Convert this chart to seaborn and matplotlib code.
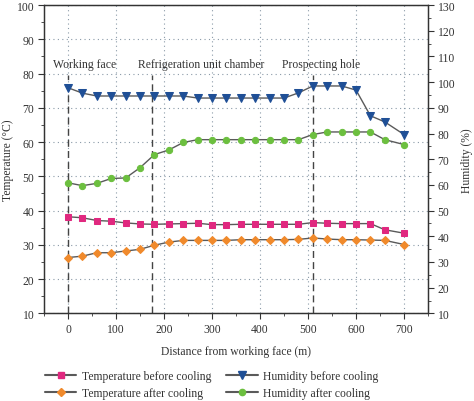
import seaborn as sns
import matplotlib.pyplot as plt
from matplotlib.lines import Line2D
from matplotlib.ticker import MultipleLocator

# distance from working face (m)
distance = [0, 30, 60, 90, 120, 150, 180, 210, 240, 270, 300, 330,
            360, 390, 420, 450, 480, 510, 540, 570, 600, 630, 660, 700]

temp_before = [38.2, 37.9, 37.1, 36.9, 36.4, 36.1, 36.0, 36.1, 36.2, 36.3, 35.9, 35.9,
               36.0, 36.0, 36.0, 36.0, 36.0, 36.5, 36.3, 36.2, 36.2, 36.2, 34.4, 33.4]
temp_after = [26.3, 26.7, 27.7, 27.7, 28.2, 28.7, 29.9, 30.8, 31.3, 31.3, 31.3, 31.3,
              31.5, 31.5, 31.5, 31.5, 31.6, 32.0, 31.7, 31.5, 31.5, 31.4, 31.3, 30.1]
hum_before = [97.8, 95.7, 94.6, 94.6, 94.6, 94.6, 94.6, 94.6, 94.6, 93.8, 93.8, 93.8,
              93.8, 93.8, 93.8, 93.8, 95.8, 98.5, 98.5, 98.5, 96.9, 86.9, 84.5, 79.6]
hum_after = [60.8, 59.7, 60.6, 62.5, 62.7, 66.7, 71.8, 73.6, 76.5, 77.6, 77.6, 77.6,
             77.6, 77.6, 77.6, 77.6, 77.6, 79.6, 80.6, 80.6, 80.6, 80.6, 77.6, 75.7]

# marked locations
places = ["Working face", "Refrigeration unit chamber", "Prospecting hole"]
place_x = [0, 175, 510]
label_x = [-31, 146, 446]

sns.set_style("ticks")
plt.rcParams['font.family'] = ['Liberation Serif', 'DejaVu Serif']
plt.rcParams['font.size'] = 8.4

fig = plt.figure(figsize=(4.74, 4.02), dpi=100)
ax = fig.add_axes([0.093, 0.218, 0.81, 0.767])
ax2 = ax.twinx()

line_col = "#5a5a5a"
c_tb, c_ta, c_hb, c_ha = "#e0287f", "#f08a2c", "#1f4f96", "#6cbf3f"

sns.lineplot(x=distance, y=temp_before, ax=ax, color=line_col, lw=1, marker="s",
             markersize=4.5, markerfacecolor=c_tb, markeredgecolor=c_tb)
sns.lineplot(x=distance, y=temp_after, ax=ax, color=line_col, lw=1, marker="D",
             markersize=4, markerfacecolor=c_ta, markeredgecolor=c_ta)
sns.lineplot(x=distance, y=hum_before, ax=ax2, color=line_col, lw=1, marker="v",
             markersize=5.5, markerfacecolor=c_hb, markeredgecolor=c_hb)
sns.lineplot(x=distance, y=hum_after, ax=ax2, color=line_col, lw=1, marker="o",
             markersize=4.5, markerfacecolor=c_ha, markeredgecolor=c_ha)

ax.set_xlim(-50, 750)
ax.set_ylim(10, 100)
ax2.set_ylim(10, 130)
ax.xaxis.set_major_locator(MultipleLocator(100))
ax.xaxis.set_minor_locator(MultipleLocator(50))
ax.yaxis.set_major_locator(MultipleLocator(10))
ax.yaxis.set_minor_locator(MultipleLocator(5))
ax2.yaxis.set_major_locator(MultipleLocator(10))
ax2.yaxis.set_minor_locator(MultipleLocator(5))

ax.grid(True, which="major", ls=(0, (1, 3)), color="#8a9aa8", lw=0.8)
ax.set_axisbelow(True)

for a in (ax, ax2):
    a.tick_params(which="major", direction="out", length=4, color="#333", labelcolor="#333", pad=3)
    a.tick_params(which="minor", direction="out", length=2, color="#333")
    for s in a.spines.values():
        s.set_color("#333")
        s.set_linewidth(0.9)

ax.set_xlabel("Distance from working face (m)", color="#333", labelpad=7)
ax.set_ylabel("Temperature (°C)", color="#333", labelpad=2)
ax2.set_ylabel("Humidity (%)", color="#333", labelpad=4)

for name, xp, lx in zip(places, place_x, label_x):
    ax.plot([xp, xp], [10, 79.5], ls=(0, (5, 3)), color="#444", lw=1, zorder=1)
    ax.text(lx, 81.8, name, color="#333", fontsize=8.4)

handles = [
    Line2D([], [], color=line_col, marker="s", markersize=4.5, markerfacecolor=c_tb, markeredgecolor=c_tb),
    Line2D([], [], color=line_col, marker="D", markersize=4, markerfacecolor=c_ta, markeredgecolor=c_ta),
    Line2D([], [], color=line_col, marker="v", markersize=5.5, markerfacecolor=c_hb, markeredgecolor=c_hb),
    Line2D([], [], color=line_col, marker="o", markersize=4.5, markerfacecolor=c_ha, markeredgecolor=c_ha),
]
labels = ["Temperature before cooling", "Temperature after cooling",
          "Humidity before cooling", "Humidity after cooling"]
fig.legend(handles, labels, ncol=2, frameon=False, loc="lower left",
           bbox_to_anchor=(0.075, -0.018), borderpad=0.3, handlelength=2.7,
           handletextpad=0.45, columnspacing=1.3, labelspacing=0.45,
           fontsize=8.4, labelcolor="#333")

fig.savefig("out.png", dpi=100)
